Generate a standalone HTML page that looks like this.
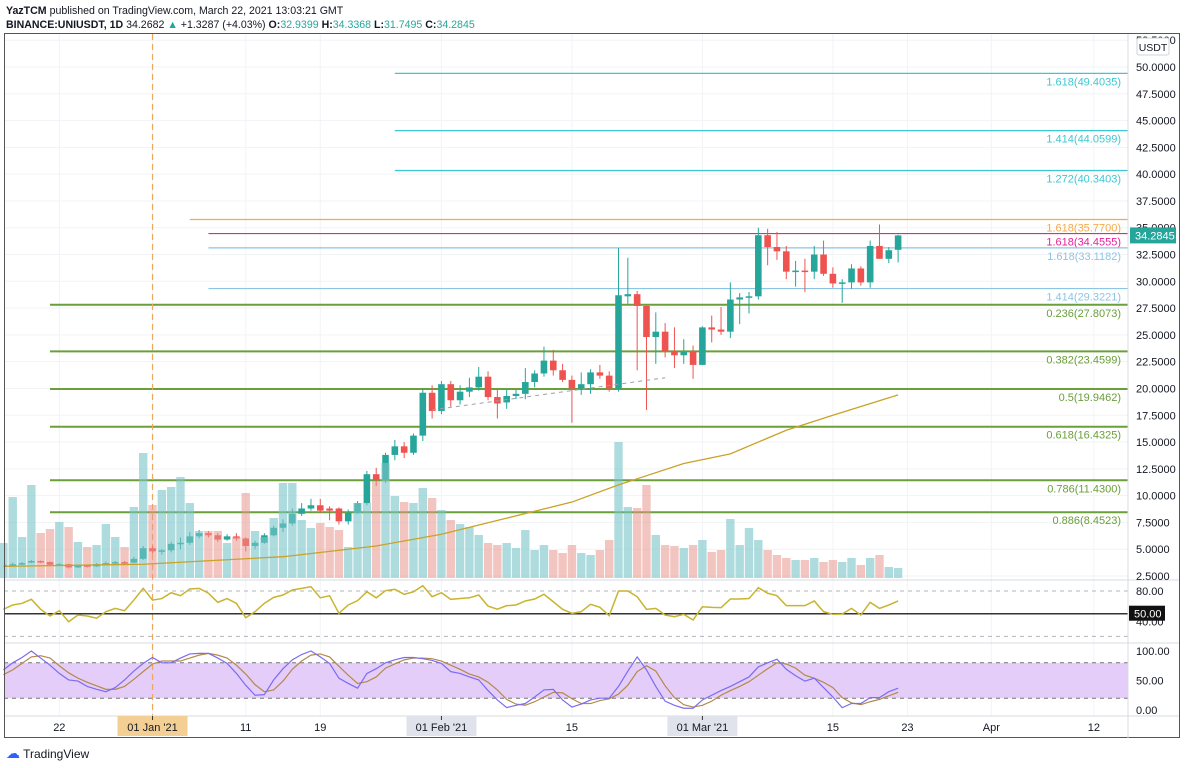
<!DOCTYPE html>
<html><head><meta charset="utf-8">
<style>
html,body{margin:0;padding:0;background:#fff;width:1186px;height:768px;overflow:hidden;font-family:"Liberation Sans",sans-serif;}
#hdr{position:absolute;left:6px;top:4px;font-size:10.6px;color:#131722;line-height:14px;}
#hdr .v{color:#26a69a}
#foot{position:absolute;left:6px;top:745px;font-size:12px;color:#131722;}
svg{position:absolute;left:0;top:0}
</style></head><body>
<div id="hdr">
<div><b>YazTCM</b> published on TradingView.com, March 22, 2021 13:03:21 GMT</div>
<div><b>BINANCE:UNIUSDT, 1D</b> 34.2682 <span class="v">▲</span> +1.3287 (+4.03%) <b>O:</b><span class="v">32.9399</span> <b>H:</b><span class="v">34.3368</span> <b>L:</b><span class="v">31.7495</span> <b>C:</b><span class="v">34.2845</span></div>
</div>
<svg id="c" width="1186" height="768"></svg>
<div id="foot"><span style="color:#2962ff;font-size:14px">☁</span> TradingView</div>
<script>
const opens=[3.5,3.55,3.6,3.75,3.9,3.8,3.55,3.6,3.3,3.5,3.4,3.6,3.7,3.8,3.75,4.1,5.1,4.8,4.9,5.5,5.6,6.2,6.5,6.3,5.9,6.2,6.0,5.3,5.6,6.3,7.0,7.4,8.3,8.8,9.1,8.8,8.8,7.6,8.4,9.3,12.0,11.5,13.8,14.6,14.0,15.6,19.6,17.9,20.4,18.9,19.7,20.1,21.1,19.2,18.7,19.3,19.5,20.6,21.4,22.6,21.7,20.8,20.0,20.4,21.5,21.2,20.0,28.6,28.8,27.7,24.8,25.3,23.5,23.1,23.4,22.2,25.7,25.5,25.3,28.3,28.5,28.6,34.3,33.2,32.8,30.9,31.0,30.9,32.5,30.7,29.8,29.9,31.2,29.9,33.3,32.1,32.94];
const highs=[3.7,3.75,3.8,4.0,3.95,3.85,3.7,3.65,3.55,3.55,3.7,3.85,3.9,3.9,4.3,5.3,5.3,5.0,5.7,6.1,6.6,6.8,6.7,6.5,6.4,6.5,6.1,5.8,6.5,7.2,7.8,8.8,9.3,9.7,9.7,9.0,8.9,8.7,9.5,12.3,12.6,14.0,15.2,15.0,15.8,20.0,20.3,20.7,20.7,20.3,21.0,22.0,21.6,19.9,19.9,19.9,21.9,21.7,23.9,23.6,22.3,21.2,21.5,21.8,22.2,21.6,33.1,32.2,29.1,27.8,27.1,26.1,25.7,24.6,24.0,25.8,26.8,27.6,29.9,28.9,29.0,35.0,34.9,34.6,33.3,31.9,32.1,33.3,33.8,31.3,30.2,31.6,31.4,33.8,35.3,33.2,34.34];
const lows=[3.4,3.45,3.5,3.7,3.7,3.5,3.45,3.2,3.25,3.3,3.35,3.5,3.6,3.6,3.7,4.0,4.6,4.5,4.7,5.0,5.4,6.0,6.1,5.7,5.8,5.8,4.8,5.0,5.5,6.2,6.6,7.2,8.1,8.6,8.4,7.7,7.3,7.3,8.3,9.1,10.9,11.2,13.3,13.5,13.8,15.1,17.2,17.6,18.3,18.5,19.2,19.8,18.9,17.2,18.1,19.0,19.0,20.1,21.1,21.2,20.6,16.8,19.4,19.5,20.9,19.7,19.7,27.9,21.7,18.0,22.3,22.9,21.9,22.3,20.9,22.2,24.3,25.0,24.7,26.0,27.0,28.3,31.5,32.0,30.2,29.5,29.0,30.2,30.5,29.4,28.0,29.3,29.6,29.4,32.1,31.7,31.75];
const closes=[3.55,3.6,3.7,3.9,3.8,3.55,3.6,3.3,3.5,3.4,3.6,3.7,3.8,3.75,4.1,5.1,4.8,4.9,5.5,5.6,6.2,6.5,6.3,5.9,6.2,6.0,5.3,5.6,6.3,7.0,7.4,8.3,8.8,9.1,8.6,8.6,7.6,8.4,9.3,12.0,11.5,13.8,14.6,14.0,15.6,19.6,17.9,20.4,18.9,19.7,20.1,21.1,19.2,18.6,19.3,19.5,20.6,21.4,22.6,21.7,20.8,20.0,20.4,21.5,21.2,20.0,28.7,28.8,27.7,24.8,25.3,23.5,23.1,23.4,22.2,25.7,25.5,25.3,28.3,28.5,28.6,34.3,33.2,32.8,30.9,31.0,30.9,32.5,30.7,29.8,29.9,31.2,29.9,33.3,32.1,32.9,34.28];
const volumes=[35,81,41,93,45,49,56,51,36,31,33,54,41,31,71,125,73,88,91,101,75,47,47,47,35,41,85,47,41,60,95,95,58,50,55,51,48,31,75,75,97,115,82,76,75,90,80,68,58,54,51,43,35,33,35,30,48,28,33,28,25,33,25,23,28,38,136,71,70,93,43,33,32,30,33,38,26,28,59,33,50,38,28,23,20,18,18,20,16,18,16,20,13,20,23,11,10];
const maDays=[0,15,30,40,47,54,61,66,73,78,84,89,96];
const maVals=[3.4,3.6,4.3,5.3,6.4,7.9,9.4,11.0,13.0,13.9,16.1,17.5,19.4];
const rsiVals=[55.8,61.5,63.7,69,55.8,47,54,39.4,48.3,47,44,52.7,57,54,68,83.5,68,70,77.7,73.8,82.6,83.5,77,65,70,63.7,44.7,52.7,63.7,71.6,74.7,81.3,83.5,85.7,71,73.8,50.5,61.5,67.2,79,71,80.4,82.2,75.6,79,87,72.5,77.7,69,70,71,74.7,60,56,60.6,61.5,66.8,69.4,75.6,65.8,55.8,50.5,52.7,62.4,58.4,47.4,80,80,72.5,55.8,57,48.3,46,49.2,41.7,59.2,58.4,58,69.4,69.4,70,84.3,77,73.8,60.6,60.6,60.6,66.8,52.7,49.2,49.6,57,48.3,65,57,61.5,66.8];
const stochK=[68,80,89,100,88,76,62,51,49,40,35,31,38,51,66,79,89,80,80,88,95,96,96,88,79,62,42,25,26,51,70,85,94,100,90,79,54,45,37,62,70,80,85,89,89,87,84,79,65,62,56,51,33,17,4,8,11,22,34,35,17,5,10,17,20,20,40,66,90,68,40,15,8,3,3,17,25,33,40,48,56,73,80,86,69,58,49,54,38,22,4,11,11,21,21,31,37];
const stochD=[60,68,79,90,92,88,75,63,54,47,41,35,35,40,52,65,78,83,83,83,88,93,96,93,88,76,61,43,31,34,49,69,83,93,95,90,74,59,45,48,56,71,78,85,88,88,87,83,76,69,61,56,47,34,18,10,8,14,22,30,29,19,11,11,16,19,27,42,65,75,66,41,21,9,5,8,15,25,33,40,48,59,70,80,78,71,59,54,47,38,21,12,9,14,18,24,30];
const priceTicks=[2.5,5,7.5,10,12.5,15,17.5,20,22.5,25,27.5,30,32.5,35,37.5,40,42.5,45,47.5,50,52.5];
const fibLevels=[49.4035,44.0599,40.3403,35.77,34.4555,33.1182,29.3221,27.8073,23.4599,19.9462,16.4325,11.43,8.4523];
const fibRatios=["1.618","1.414","1.272","1.618","1.618","1.618","1.414","0.236","0.382","0.5","0.618","0.786","0.886"];
const fibStart=[42,42,42,20,22,22,22,5,5,5,5,5,5];
const fibColors=["#3cc8d2","#3cc8d2","#3cc8d2","#f5a94a","#e8209a","#8cc4e6","#8cc4e6","#6a9f3a","#6a9f3a","#6a9f3a","#6a9f3a","#6a9f3a","#6a9f3a"];
const trendDays=[46,71];const trendVals=[18.0,21.0];
const timeLabels=["22","01 Jan '21","11","19","01 Feb '21","15","01 Mar '21","15","23","Apr","12"];
const timeDays=[6,16,26,34,47,61,75,89,97,106,117];
const timeBox=["","#f3cf94","","","#e0e3eb","","#e0e3eb","","","",""];

const X=i=>3.4+9.32*i;
const PY=p=>576-(p-2.5)*10.716;
const RY=v=>613.7-(v-50)*0.757;
const SY=v=>710-v*0.59;
const VY=h=>578-h;
const svg=document.getElementById('c');
const NS='http://www.w3.org/2000/svg';
function mk(t,a,p){const e=document.createElementNS(NS,t);for(const k in a)e.setAttribute(k,a[k]);(p||svg).appendChild(e);return e;}
const R=1128;
const defs=mk('defs',{});const cp=mk('clipPath',{id:'pc'},defs);mk('rect',{x:4,y:34,width:R-4,height:546},cp);
priceTicks.forEach(t=>{const g=mk('line',{x1:4,x2:R,y1:PY(t),y2:PY(t),stroke:'#f1f3f7'});});
timeDays.forEach(d=>{const g=mk('line',{x1:X(d),x2:X(d),y1:34,y2:716,stroke:'#f1f3f7'});});
const band=mk('rect',{x:4,y:SY(80),width:R-4,height:SY(20)-SY(80),fill:'#e4cdf9'});

fibLevels.forEach((lv,k)=>{
 const l=mk('line',{x1:X(fibStart[k]),x2:R,y1:PY(lv),y2:PY(lv),stroke:fibColors[k],'stroke-width':k>6?2:1.2});
 
 const t=mk('text',{x:1121,y:PY(lv)+12,'text-anchor':'end','font-size':11,fill:fibColors[k]});
 t.textContent=fibRatios[k]+'('+lv.toFixed(4)+')';
 
});
const jd=mk('line',{x1:X(16),x2:X(16),y1:34,y2:716,stroke:'#eea85e','stroke-dasharray':'6,4','stroke-width':1.2});

const cg=mk('g',{'clip-path':'url(#pc)'});
opens.forEach((o,i)=>{const c=closes[i],up=c>=o,col=up?'#26a69a':'#ef5350',x=X(i);
 const w=mk('line',{x1:x,x2:x,y1:PY(highs[i]),y2:PY(lows[i]),stroke:col,'stroke-width':1},cg);
 
 const t=PY(Math.max(o,c)),b=PY(Math.min(o,c));
 const r=mk('rect',{x:x-3.3,y:t,width:6.6,height:Math.max(1.5,b-t),fill:col},cg);
 
});
volumes.forEach((v,i)=>{const up=closes[i]>=opens[i];
 const r=mk('rect',{x:X(i)-4.2,y:VY(v),width:8.4,height:v,fill:up?'rgba(120,196,200,0.6)':'rgba(232,150,140,0.55)'});
 });
const ma=mk('polyline',{points:maDays.map((d,k)=>X(d)+','+PY(maVals[k])).join(' '),fill:'none',stroke:'#c9a227','stroke-width':1.3});

const tl=mk('line',{x1:X(trendDays[0]),x2:X(trendDays[1]),y1:PY(trendVals[0]),y2:PY(trendVals[1]),stroke:'#9aa0aa','stroke-dasharray':'4,4'});

[[580],[643],[716]].forEach(([y])=>{const s=mk('line',{x1:4,x2:1180,y1:y,y2:y,stroke:'#d8dbe2'});});
[80,20].forEach(v=>{const l=mk('line',{x1:4,x2:R,y1:RY(v),y2:RY(v),stroke:'#b0b4bc','stroke-dasharray':'4,4'});});
const r50=mk('line',{x1:4,x2:R,y1:RY(50),y2:RY(50),stroke:'#333','stroke-width':1.5});
const rl=mk('polyline',{points:rsiVals.map((v,i)=>X(i)+','+RY(v)).join(' '),fill:'none',stroke:'#c8b42e','stroke-width':1.5});

[80,20].forEach(v=>{const l=mk('line',{x1:4,x2:R,y1:SY(v),y2:SY(v),stroke:'#777','stroke-dasharray':'4,4'});});
const sd=mk('polyline',{points:stochD.map((v,i)=>X(i)+','+SY(v)).join(' '),fill:'none',stroke:'#b5894a','stroke-width':1.2});

const sk=mk('polyline',{points:stochK.map((v,i)=>X(i)+','+SY(v)).join(' '),fill:'none',stroke:'#7b6cf2','stroke-width':1.2});

const bd=mk('rect',{x:4.5,y:33.5,width:1175,height:704,fill:'none',stroke:'#555'});
const ax=mk('line',{x1:R,x2:R,y1:34,y2:738,stroke:'#d8dbe2'});
priceTicks.forEach(t=>{const e=mk('text',{x:1136,y:PY(t)+4,'font-size':11,fill:'#131722'});e.textContent=t.toFixed(4);});
const ub=mk('rect',{x:1137,y:38,width:32,height:17,rx:2,fill:'#fff',stroke:'#d0d3da'});
const ut=mk('text',{x:1153,y:51,'text-anchor':'middle','font-size':10.5,fill:'#131722'});ut.textContent='USDT';
const pb=mk('rect',{x:1130,y:PY(34.2845)-8,width:46,height:16,fill:'#26a69a'});
const pt=mk('text',{x:1135,y:PY(34.2845)+4,'font-size':11,fill:'#fff'});pt.textContent='34.2845';
const rt=mk('text',{x:1136,y:RY(80)+4,'font-size':11,fill:'#131722'});rt.textContent='80.00';
const rt2=mk('text',{x:1136,y:RY(40)+4,'font-size':11,fill:'#131722'});rt2.textContent='40.00';
const rb=mk('rect',{x:1129,y:RY(50)-8,width:36,height:15,fill:'#111'});
const rbt=mk('text',{x:1134,y:RY(50)+4,'font-size':11,fill:'#fff'});rbt.textContent='50.00';
[[100,'100.00'],[50,'50.00'],[0,'0.00']].forEach(([v,s])=>{const e=mk('text',{x:1136,y:SY(v)+4,'font-size':11,fill:'#131722'});e.textContent=s;});
timeLabels.forEach((s,k)=>{const x=X(timeDays[k]);
 if(timeBox[k]){const w=s.length*6+10;const b=mk('rect',{x:x-w/2,y:716,width:w,height:20,fill:timeBox[k]});
  const tk=mk('line',{x1:x,x2:x,y1:716,y2:720,stroke:'#333'});}
 const e=mk('text',{x:x,y:731,'text-anchor':'middle','font-size':11,fill:'#131722'});e.textContent=s;});
</script>
</body></html>
